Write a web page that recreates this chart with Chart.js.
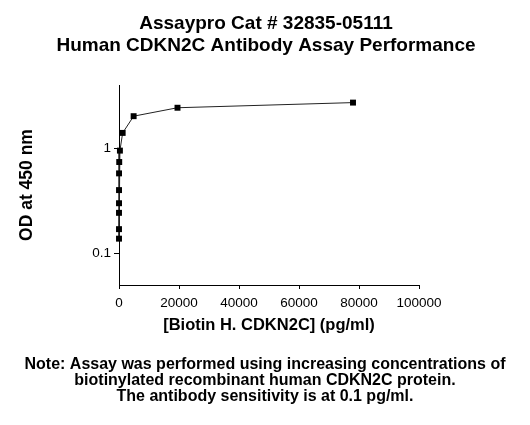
<!DOCTYPE html>
<html lang="en">

<head>
    <meta charset="UTF-8">
    <title>Human CDKN2C Antibody Assay Performance</title>
    <script src="https://cdn.jsdelivr.net/npm/chart.js"></script>
    <style>
        html, body {
            margin: 0;
            padding: 0;
            background: #fff;
        }
        #wrap {
            width: 530px;
            height: 425px;
        }
    </style>
</head>

<body>
    <div id="wrap"><canvas id="myChart"></canvas></div>

    <script>
        // concentracion (pg/ml) y lectura OD a 450 nm
        const concentrations = [78000, 19500, 4875, 1219, 305, 76, 19, 4.8, 1.2, 0.3, 0.075, 0.019];
        const odValues = [2.72, 2.43, 2.02, 1.40, 0.95, 0.74, 0.577, 0.40, 0.30, 0.243, 0.17, 0.138];

        const xTicks = [0, 20000, 40000, 60000, 80000, 100000];
        const yTicks = [0.1, 1];

        const titleLines = ['Assaypro Cat # 32835-05111', 'Human CDKN2C Antibody Assay Performance'];
        const noteLines = [
            'Note: Assay was performed using increasing concentrations of',
            'biotinylated recombinant human CDKN2C protein.',
            'The antibody sensitivity is at 0.1 pg/ml.'
        ];

        const FONT = "'Liberation Sans', Arial, sans-serif";

        // dibuja titulo y nota centrados en el canvas
        const textBlocks = {
            id: 'textBlocks',
            afterDraw(chart) {
                const ctx = chart.ctx;
                ctx.save();
                ctx.fillStyle = '#000';
                ctx.textAlign = 'center';
                ctx.textBaseline = 'middle';
                ctx.font = 'bold 19px ' + FONT;
                titleLines.forEach((t, i) => ctx.fillText(t, chart.width / 2 + 1, 24 + i * 22));
                ctx.font = 'bold 16px ' + FONT;
                noteLines.forEach((t, i) => ctx.fillText(t, chart.width / 2, 365 + i * 16));
                ctx.restore();
            }
        };

        const data = {
            datasets: [{
                data: concentrations.map((c, i) => ({ x: c, y: odValues[i] })),
                borderColor: '#222',
                borderWidth: 1,
                backgroundColor: '#000',
                pointStyle: 'rect',
                pointRadius: 4.2,
                pointBorderWidth: 0,
                pointBackgroundColor: '#000',
                clip: false,
                tension: 0
            }]
        };

        const config = {
            type: 'line',
            data: data,
            plugins: [textBlocks],
            options: {
                responsive: true,
                maintainAspectRatio: false,
                animation: false,
                layout: {
                    padding: { top: 85, right: 111, bottom: 90, left: 0 }
                },
                plugins: {
                    legend: { display: false },
                    tooltip: { enabled: false }
                },
                scales: {
                    x: {
                        type: 'linear',
                        min: 0,
                        max: 100000,
                        afterFit: s => { s.height = 50; },
                        afterBuildTicks: s => { s.ticks = xTicks.map(v => ({ value: v })); },
                        grid: { drawOnChartArea: false, drawTicks: true, tickLength: 4, color: '#000' },
                        border: { color: '#000', width: 1 },
                        ticks: {
                            color: '#000',
                            padding: 6,
                            maxRotation: 0,
                            font: { family: FONT, size: 13.5 },
                            callback: v => String(v)
                        },
                        title: {
                            display: true,
                            text: '[Biotin H. CDKN2C] (pg/ml)',
                            color: '#000',
                            padding: { top: 3, bottom: 0 },
                            font: { family: FONT, size: 16.5, weight: 'bold' }
                        }
                    },
                    y: {
                        type: 'logarithmic',
                        min: 0.05,
                        max: 4,
                        afterFit: s => { s.width = 119; },
                        afterBuildTicks: s => { s.ticks = yTicks.map(v => ({ value: v })); },
                        grid: { drawOnChartArea: false, drawTicks: true, tickLength: 5, color: '#000' },
                        border: { color: '#000', width: 1 },
                        ticks: {
                            color: '#000',
                            padding: 3,
                            font: { family: FONT, size: 13.5 },
                            callback: v => String(v)
                        },
                        title: {
                            display: true,
                            text: 'OD at 450 nm',
                            color: '#000',
                            padding: { top: 17, bottom: 0 },
                            font: { family: FONT, size: 17.5, weight: 'bold' }
                        }
                    }
                }
            }
        };

        const myChart = new Chart(document.getElementById('myChart'), config);
    </script>
</body>

</html>
